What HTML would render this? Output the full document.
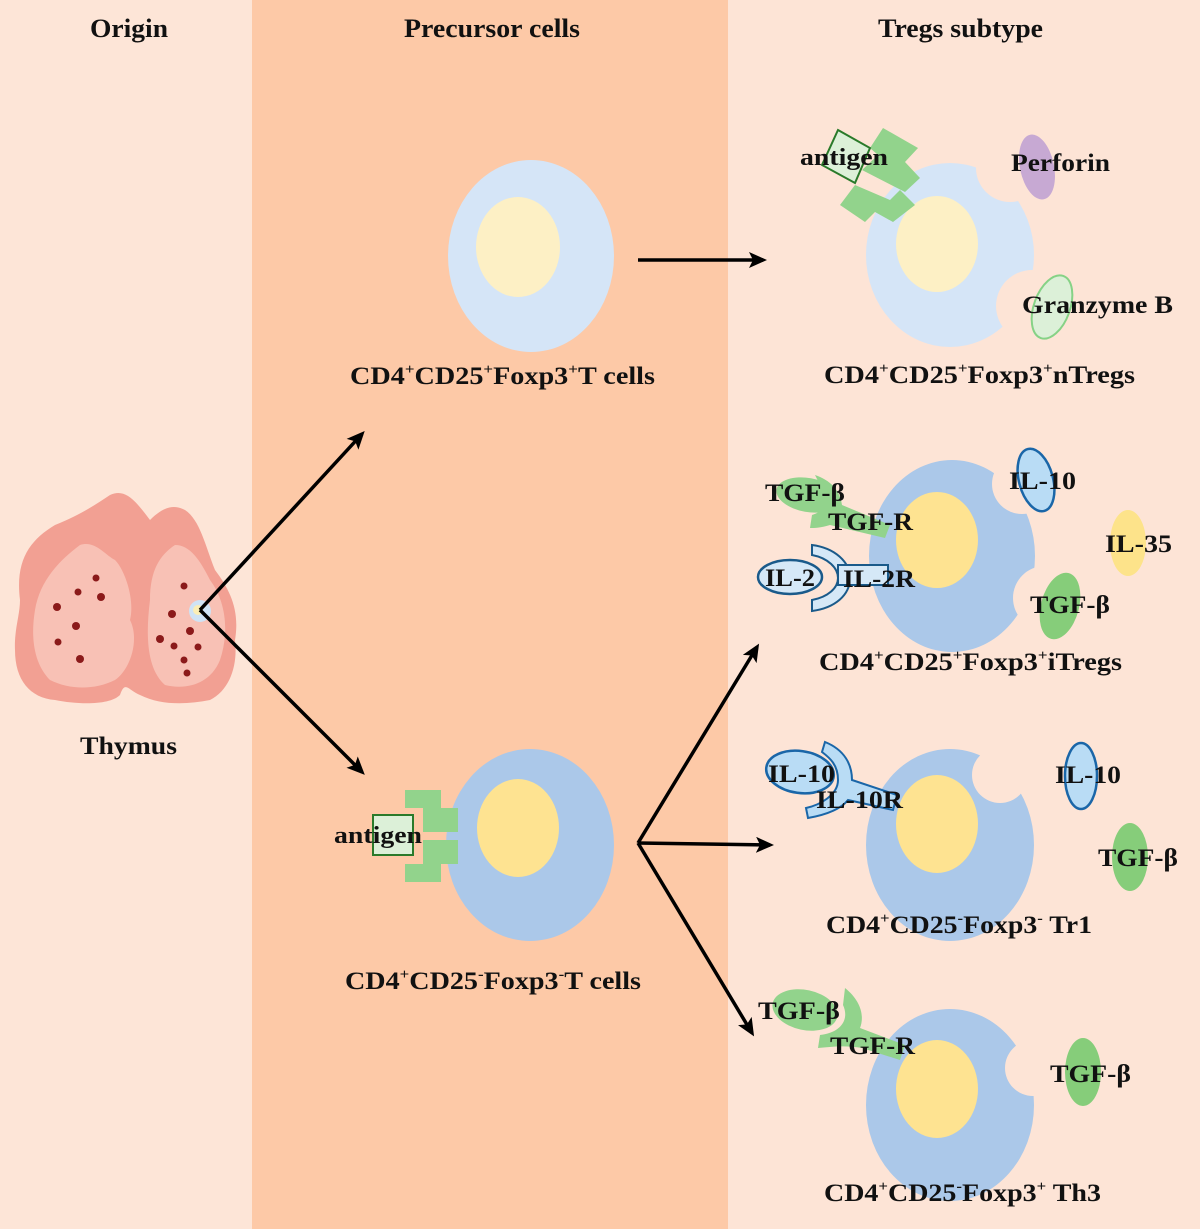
<!DOCTYPE html>
<html><head><meta charset="utf-8"><style>
html,body{margin:0;padding:0;background:#fde5d6}
svg{display:block}
text{font-family:"Liberation Serif",serif;font-weight:bold;fill:#111}
</style></head><body>
<svg width="1200" height="1229" viewBox="0 0 1200 1229" xmlns="http://www.w3.org/2000/svg">
<defs>
<marker id="ah" markerWidth="18" markerHeight="16" refX="14" refY="8" orient="auto" markerUnits="userSpaceOnUse" viewBox="0 0 18 16">
<path d="M0,0 L18,8 L0,16 L4,8 z" fill="#000"/></marker>
</defs>
<rect x="0" y="0" width="252" height="1229" fill="#fde5d7"/>
<rect x="252" y="0" width="476" height="1229" fill="#fdc9a7"/>
<rect x="728" y="0" width="472" height="1229" fill="#fde4d6"/>

<g font-size="26" lengthAdjust="spacingAndGlyphs">
<text x="90" y="37" textLength="78" lengthAdjust="spacingAndGlyphs">Origin</text>
<text x="404" y="37" textLength="176" lengthAdjust="spacingAndGlyphs">Precursor cells</text>
<text x="878" y="37" textLength="165" lengthAdjust="spacingAndGlyphs">Tregs subtype</text>
</g>

<!-- Thymus -->
<g>
<path d="M20,600 C15,560 30,540 55,525 C80,515 95,505 110,495 C125,488 135,500 150,520 C165,505 175,505 185,510 C200,520 205,545 215,570 C230,590 240,610 235,640 C238,665 230,690 210,700 C185,705 160,705 140,695 C128,690 125,680 120,695 C110,705 80,705 55,700 C30,698 15,680 15,650 C14,630 20,615 20,600 Z" fill="#f2a093"/>
<path d="M35,610 C40,580 60,560 80,545 C95,540 105,555 115,560 C125,570 135,600 130,620 C140,640 130,670 115,680 C95,690 70,690 50,680 C35,665 30,640 35,610 Z" fill="#f8c1b5"/>
<path d="M150,600 C150,570 160,555 175,545 C190,545 200,560 210,580 C225,600 230,630 220,660 C210,685 185,690 165,685 C148,670 145,640 150,600 Z" fill="#f8c1b5"/>
<g fill="#8b1a1a">
<circle cx="78" cy="592" r="3.5"/><circle cx="101" cy="597" r="4"/><circle cx="57" cy="607" r="4"/><circle cx="76" cy="626" r="4"/><circle cx="58" cy="642" r="3.5"/><circle cx="80" cy="659" r="4"/><circle cx="96" cy="578" r="3.5"/>
<circle cx="184" cy="586" r="3.5"/><circle cx="172" cy="614" r="4"/><circle cx="190" cy="631" r="4"/><circle cx="160" cy="639" r="4"/><circle cx="174" cy="646" r="3.5"/><circle cx="198" cy="647" r="3.5"/><circle cx="184" cy="660" r="3.5"/><circle cx="187" cy="673" r="3.5"/>
</g>
<circle cx="200" cy="611" r="11" fill="#cfe3f5"/><circle cx="198" cy="610" r="5" fill="#fbeeb5"/>
<text x="80" y="754" font-size="25" textLength="97" lengthAdjust="spacingAndGlyphs">Thymus</text>
</g>

<!-- arrows -->
<g stroke="#000" stroke-width="3.5" fill="none" marker-end="url(#ah)">
<line x1="200" y1="610" x2="362" y2="434"/>
<line x1="200" y1="610" x2="362" y2="772"/>
<line x1="638" y1="260" x2="763" y2="260"/>
<line x1="638" y1="843" x2="757" y2="647"/>
<line x1="638" y1="843" x2="770" y2="845"/>
<line x1="638" y1="843" x2="752" y2="1033"/>
</g>

<!-- precursor top -->
<ellipse cx="531" cy="256" rx="83" ry="96" fill="#d5e5f7"/>
<ellipse cx="518" cy="247" rx="42" ry="50" fill="#fdf0c5"/>
<text x="350" y="384" font-size="25" textLength="305" lengthAdjust="spacingAndGlyphs">CD4<tspan dy="-10" font-size="15">+</tspan><tspan dy="10">CD25</tspan><tspan dy="-10" font-size="15">+</tspan><tspan dy="10">Foxp3</tspan><tspan dy="-10" font-size="15">+</tspan><tspan dy="10">T cells</tspan></text>

<!-- precursor bottom -->
<ellipse cx="530" cy="845" rx="84" ry="96" fill="#abc8e9"/>
<ellipse cx="518" cy="828" rx="41" ry="49" fill="#fee391"/>
<path d="M405,790 h36 v18 h17 v24 h-35 v-24 h-18 z M405,882 h36 v-18 h17 v-24 h-35 v24 h-18 z" fill="#92d38c"/>
<rect x="373" y="815" width="40" height="40" fill="#dcf0d8" stroke="#2a7a2a" stroke-width="2"/>
<text x="334" y="843" font-size="24" textLength="88" lengthAdjust="spacingAndGlyphs">antigen</text>
<text x="345" y="989" font-size="25" textLength="296" lengthAdjust="spacingAndGlyphs">CD4<tspan dy="-10" font-size="15">+</tspan><tspan dy="10">CD25</tspan><tspan dy="-10" font-size="15">-</tspan><tspan dy="10">Foxp3</tspan><tspan dy="-10" font-size="15">-</tspan><tspan dy="10">T cells</tspan></text>

<!-- nTregs -->
<ellipse cx="950" cy="255" rx="84" ry="92" fill="#d5e5f7"/>
<circle cx="1010" cy="168" r="34" fill="#fde4d6"/>
<circle cx="1032" cy="306" r="36" fill="#fde4d6"/>
<ellipse cx="937" cy="244" rx="41" ry="48" fill="#fdf0c5"/>
<g fill="#92d38c">
<polygon points="883,128 918,148 905,162 920,178 905,192 862,170 878,155 870,148"/>
<polygon points="855,185 890,200 900,190 915,205 893,222 875,212 865,222 840,205"/>
</g>
<polygon points="838,130 870,148 855,183 822,165" fill="#dcf0d8" stroke="#2a7a2a" stroke-width="2"/>
<text x="800" y="165" font-size="24" textLength="88" lengthAdjust="spacingAndGlyphs">antigen</text>
<ellipse cx="1037" cy="167" rx="17" ry="33" transform="rotate(-12 1037 167)" fill="#c7a9d3"/>
<text x="1011" y="171" font-size="25" textLength="99" lengthAdjust="spacingAndGlyphs">Perforin</text>
<ellipse cx="1052" cy="307" rx="18" ry="33" transform="rotate(20 1052 307)" fill="#dcf0d8" stroke="#86d286" stroke-width="2"/>
<text x="1022" y="313" font-size="25" textLength="151" lengthAdjust="spacingAndGlyphs">Granzyme B</text>
<text x="824" y="383" font-size="25" textLength="311" lengthAdjust="spacingAndGlyphs">CD4<tspan dy="-10" font-size="15">+</tspan><tspan dy="10">CD25</tspan><tspan dy="-10" font-size="15">+</tspan><tspan dy="10">Foxp3</tspan><tspan dy="-10" font-size="15">+</tspan><tspan dy="10">nTregs</tspan></text>

<!-- iTregs -->
<ellipse cx="952" cy="556" rx="83" ry="96" fill="#abc8e9"/>
<circle cx="1022" cy="484" r="30" fill="#fde4d6"/>
<circle cx="1045" cy="598" r="32" fill="#fde4d6"/>
<ellipse cx="937" cy="540" rx="41" ry="48" fill="#fee391"/>
<path d="M815,475 C830,480 840,490 842,505 L890,525 L885,538 L830,525 C820,528 815,528 810,528 L812,515 C822,512 828,505 825,495 Z" fill="#92d38c"/>
<ellipse cx="808" cy="495" rx="32" ry="17" transform="rotate(10 808 495)" fill="#92d38c"/>
<text x="765" y="501" font-size="25" textLength="80" lengthAdjust="spacingAndGlyphs">TGF-β</text>
<text x="828" y="530" font-size="25" textLength="85" lengthAdjust="spacingAndGlyphs">TGF-R</text>
<path d="M812,545 C835,548 850,562 850,578 C850,595 835,608 812,611 L812,600 C828,597 838,588 838,578 C838,568 828,558 812,555 Z" fill="#d5e8f7" stroke="#1a5a8a" stroke-width="2"/>
<rect x="838" y="565" width="50" height="20" fill="#d5e8f7" stroke="#1a5a8a" stroke-width="2"/>
<ellipse cx="790" cy="577" rx="32" ry="17" fill="#d5e8f7" stroke="#1a5a8a" stroke-width="2.5"/>
<text x="765" y="586" font-size="25" textLength="50" lengthAdjust="spacingAndGlyphs">IL-2</text>
<text x="843" y="587" font-size="25" textLength="72" lengthAdjust="spacingAndGlyphs">IL-2R</text>
<ellipse cx="1036" cy="480" rx="17" ry="32" transform="rotate(-15 1036 480)" fill="#b9dcf5" stroke="#1a66a8" stroke-width="2.5"/>
<text x="1009" y="489" font-size="25" textLength="67" lengthAdjust="spacingAndGlyphs">IL-10</text>
<ellipse cx="1128" cy="543" rx="18" ry="33" fill="#fde38a"/>
<text x="1105" y="552" font-size="25" textLength="67" lengthAdjust="spacingAndGlyphs">IL-35</text>
<ellipse cx="1060" cy="606" rx="19" ry="34" transform="rotate(15 1060 606)" fill="#86cd7a"/>
<text x="1030" y="613" font-size="25" textLength="80" lengthAdjust="spacingAndGlyphs">TGF-β</text>
<text x="819" y="670" font-size="25" textLength="303" lengthAdjust="spacingAndGlyphs">CD4<tspan dy="-10" font-size="15">+</tspan><tspan dy="10">CD25</tspan><tspan dy="-10" font-size="15">+</tspan><tspan dy="10">Foxp3</tspan><tspan dy="-10" font-size="15">+</tspan><tspan dy="10">iTregs</tspan></text>

<!-- Tr1 -->
<ellipse cx="950" cy="845" rx="84" ry="96" fill="#abc8e9"/>
<circle cx="1000" cy="775" r="28" fill="#fde4d6"/>
<ellipse cx="937" cy="824" rx="41" ry="49" fill="#fee391"/>
<path d="M825,742 C845,750 852,765 852,780 L897,795 L893,810 L848,800 C840,810 825,815 808,818 L806,808 C820,805 838,795 838,780 C838,765 830,758 822,752 Z" fill="#b9dcf5" stroke="#1a66a8" stroke-width="2"/>
<ellipse cx="800" cy="772" rx="34" ry="21" transform="rotate(8 800 772)" fill="#b9dcf5" stroke="#1a66a8" stroke-width="2.5"/>
<text x="768" y="782" font-size="25" textLength="67" lengthAdjust="spacingAndGlyphs">IL-10</text>
<text x="816" y="808" font-size="25" textLength="87" lengthAdjust="spacingAndGlyphs">IL-10R</text>
<ellipse cx="1081" cy="776" rx="16" ry="33" fill="#b9dcf5" stroke="#1a66a8" stroke-width="2.5"/>
<text x="1055" y="783" font-size="25" textLength="66" lengthAdjust="spacingAndGlyphs">IL-10</text>
<ellipse cx="1130" cy="857" rx="18" ry="34" fill="#86cd7a"/>
<text x="1098" y="866" font-size="25" textLength="80" lengthAdjust="spacingAndGlyphs">TGF-β</text>
<text x="826" y="933" font-size="25" textLength="266" lengthAdjust="spacingAndGlyphs">CD4<tspan dy="-10" font-size="15">+</tspan><tspan dy="10">CD25</tspan><tspan dy="-10" font-size="15">-</tspan><tspan dy="10">Foxp3</tspan><tspan dy="-10" font-size="15">-</tspan><tspan dy="10"> Tr1</tspan></text>

<!-- Th3 -->
<ellipse cx="950" cy="1105" rx="84" ry="96" fill="#abc8e9"/>
<circle cx="1033" cy="1068" r="28" fill="#fde4d6"/>
<ellipse cx="937" cy="1089" rx="41" ry="49" fill="#fee391"/>
<path d="M845,988 C860,1000 865,1015 860,1028 L905,1045 L900,1060 L862,1048 C845,1045 830,1047 818,1048 L820,1035 C840,1033 850,1020 843,1005 Z" fill="#92d38c"/>
<ellipse cx="805" cy="1010" rx="33" ry="20" transform="rotate(12 805 1010)" fill="#92d38c"/>
<text x="758" y="1019" font-size="25" textLength="82" lengthAdjust="spacingAndGlyphs">TGF-β</text>
<text x="830" y="1054" font-size="25" textLength="85" lengthAdjust="spacingAndGlyphs">TGF-R</text>
<ellipse cx="1083" cy="1072" rx="18" ry="34" fill="#86cd7a"/>
<text x="1050" y="1082" font-size="25" textLength="81" lengthAdjust="spacingAndGlyphs">TGF-β</text>
<text x="824" y="1201" font-size="25" textLength="277" lengthAdjust="spacingAndGlyphs">CD4<tspan dy="-10" font-size="15">+</tspan><tspan dy="10">CD25</tspan><tspan dy="-10" font-size="15">-</tspan><tspan dy="10">Foxp3</tspan><tspan dy="-10" font-size="15">+</tspan><tspan dy="10"> Th3</tspan></text>
</svg>
</body></html>
